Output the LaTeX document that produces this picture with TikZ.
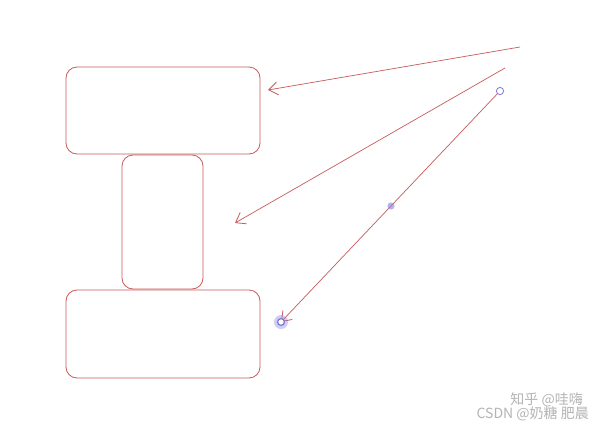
\documentclass[tikz,border=0pt]{standalone}
\usepackage{fontspec}
\newfontfamily\cjk{Noto Sans CJK SC}
\usetikzlibrary{arrows.meta}
\definecolor{sketchred}{RGB}{200,90,90}
\definecolor{handle}{RGB}{120,120,220}
\definecolor{wm}{RGB}{180,180,180}
\tikzset{
  sbox/.style={draw=sketchred, line width=0.8pt, rounded corners=11pt},
  sarrow/.style={draw=sketchred, line width=0.7pt, -{Straight Barb[length=9pt,width=13pt,line width=0.8pt]}},
  wmtext/.style={text=wm, font=\cjk\fontsize{14}{15}\selectfont, inner sep=0pt, anchor=east}
}
\begin{document}
\begin{tikzpicture}[x=1pt,y=-1pt]
\useasboundingbox (0,0) rectangle (600,429);
\fill[white] (0,0) rectangle (600,429);
\draw[sbox] (66,67) rectangle (260,154);
\draw[sbox] (122,155) rectangle (203,289);
\draw[sbox] (66,290) rectangle (260,378);
\coordinate (s1) at (520,47);
\coordinate (e1) at (268,90);
\coordinate (s2) at (505,68);
\coordinate (e2) at (235,223);
\coordinate (s3) at (500,91);
\coordinate (e3) at (281,322);
\coordinate (m3) at (391,206);
\draw[sarrow] (s1) -- (e1);
\draw[sarrow] (s2) -- (e2);
\draw[sarrow] (s3) -- (e3);
\fill[handle, opacity=0.35] (e3) circle (7);
\draw[handle, fill=white, line width=1.2pt] (e3) circle (3.4);
\draw[handle, fill=white, line width=0.8pt] (s3) circle (3.6);
\fill[handle, opacity=0.55] (m3) circle (3.6);
\node[wmtext] (w1) at (583,400) {知乎 @哇嗨};
\node[wmtext] (w2) at (589,414) {CSDN @奶糖 肥晨};
\end{tikzpicture}
\end{document}
